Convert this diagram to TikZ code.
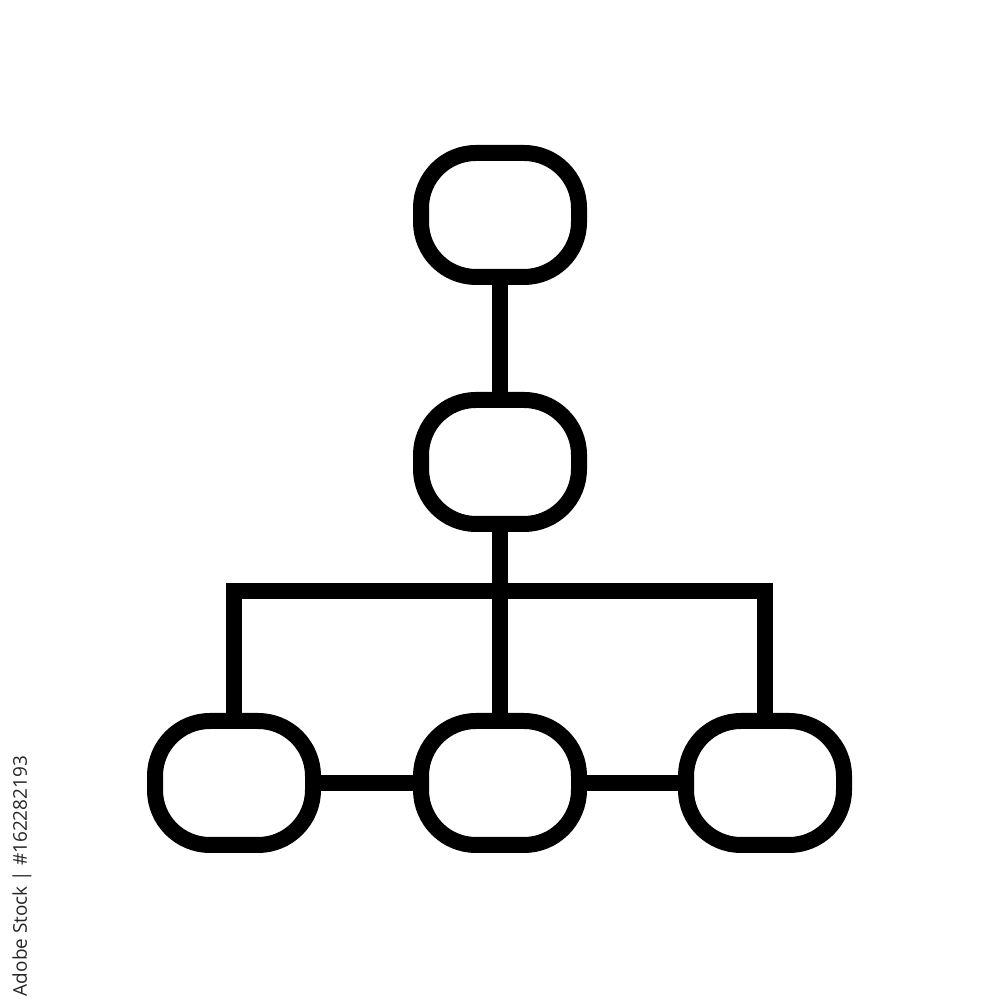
\documentclass[tikz,border=0pt]{standalone}
\usepackage{fontspec}
\newfontfamily\markfont{Open Sans}
\usetikzlibrary{positioning}
\tikzstyle{box} = [rectangle, rounded corners=5.5mm, minimum width=1.58cm, minimum height=1.24cm, inner sep=0pt, draw=black, line width=1.6mm]
\tikzstyle{link} = [draw=black, line width=1.6mm]
\begin{document}
\begin{tikzpicture}[node distance=2.47cm]
\useasboundingbox (0,0) rectangle (10,10);
\node (root) [box] at (5,7.85) {};
\node (mid) [box, below of=root] {};
\node (b2) [box, below of=mid, yshift=-0.74cm] {};
\node (b1) [box, left of=b2, xshift=-0.19cm] {};
\node (b3) [box, right of=b2, xshift=0.18cm] {};
\coordinate (bar) at (5,4.09);
\node (mark) [rotate=90, text=black!85, font=\markfont\fontsize{5.4}{6}\selectfont] at (0.22,1.24) {Adobe Stock | \#162282193};
\draw[link] (root) -- (mid);
\draw[link] (mid) -- (b2);
\draw[link] (b1.north) |- (bar) -| (b3.north);
\draw[link] (b1) -- (b2);
\draw[link] (b2) -- (b3);
\end{tikzpicture}
\end{document}
